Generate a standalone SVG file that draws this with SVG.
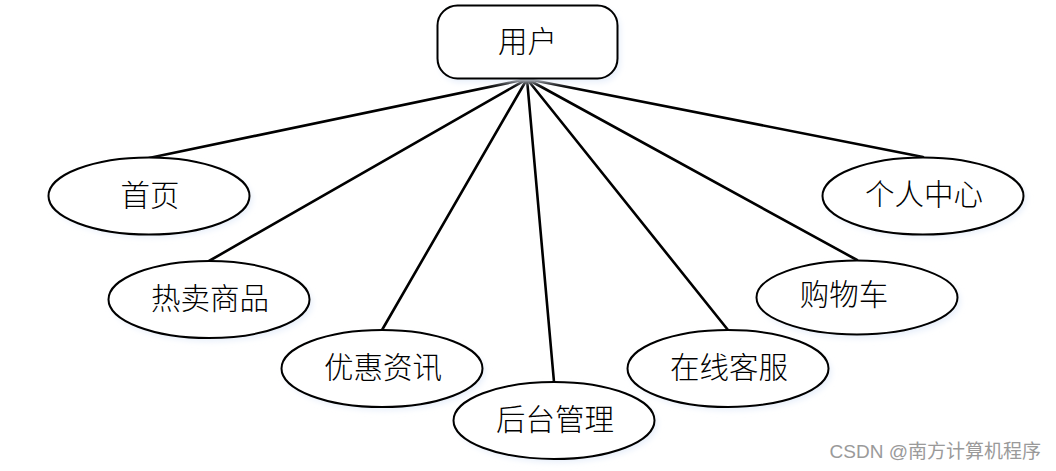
<svg xmlns="http://www.w3.org/2000/svg" width="1056" height="471" viewBox="0 0 1056 471">
<style>
.s{fill:#fff;stroke:#000;stroke-width:2}
.c{stroke:#000;stroke-width:2.6;fill:none;stroke-linecap:round}
.t{font-family:"Noto Sans CJK SC","Liberation Serif",serif;font-size:29.5px;font-weight:300;fill:#000;text-anchor:middle;letter-spacing:0}
.w{font-family:"Liberation Sans","Noto Sans CJK SC",sans-serif;font-size:19px;fill:#9a9a9a;text-anchor:end}
.g{fill:#e6eefa;filter:url(#b)}
</style>
<defs><filter id="b" x="-20%" y="-30%" width="140%" height="160%"><feGaussianBlur stdDeviation="3"/></filter></defs>
<rect width="1056" height="471" fill="#fff"/>
<g id="connectors">
<path class="c" d="M527 79L149 158"/>
<path class="c" d="M527 79L209 261"/>
<path class="c" d="M527 79L382 330"/>
<path class="c" d="M527 79L554 382"/>
<path class="c" d="M527 79L728 330"/>
<path class="c" d="M527 79L857 260"/>
<path class="c" d="M527 79L923 157"/>
</g>
<g id="user"><rect class="g" x="440" y="9" width="180" height="73" rx="20"/><rect class="s" x="437.500" y="5.500" width="180" height="73" rx="20"/><text class="t" x="527.500" y="52">用户</text></g>
<g id="home"><ellipse class="g" cx="152" cy="199" rx="100" ry="38"/><ellipse class="s" cx="149" cy="196" rx="100.500" ry="38.500"/><text class="t" x="150" y="206">首页</text></g>
<g id="hot"><ellipse class="g" cx="212" cy="303" rx="100" ry="38"/><ellipse class="s" cx="209" cy="299.500" rx="100.500" ry="38.500"/><text class="t" x="210" y="309">热卖商品</text></g>
<g id="news"><ellipse class="g" cx="385" cy="372" rx="100" ry="38"/><ellipse class="s" cx="382" cy="368.500" rx="100.500" ry="38.500"/><text class="t" x="383" y="378">优惠资讯</text></g>
<g id="admin"><ellipse class="g" cx="557" cy="424" rx="100" ry="38"/><ellipse class="s" cx="554" cy="420.500" rx="100.500" ry="38.500"/><text class="t" x="555" y="430">后台管理</text></g>
<g id="service"><ellipse class="g" cx="731" cy="372" rx="100" ry="38"/><ellipse class="s" cx="728" cy="368.500" rx="100.500" ry="38.500"/><text class="t" x="729" y="378">在线客服</text></g>
<g id="cart"><ellipse class="g" cx="860" cy="301" rx="100" ry="37"/><ellipse class="s" cx="857" cy="297.500" rx="100.500" ry="37"/><text class="t" x="844" y="305">购物车</text></g>
<g id="profile"><ellipse class="g" cx="926" cy="199" rx="100" ry="38"/><ellipse class="s" cx="923" cy="196" rx="100.500" ry="38.500"/><text class="t" x="924" y="205">个人中心</text></g>
<text class="w" x="1041" y="458">CSDN @南方计算机程序</text>
</svg>
